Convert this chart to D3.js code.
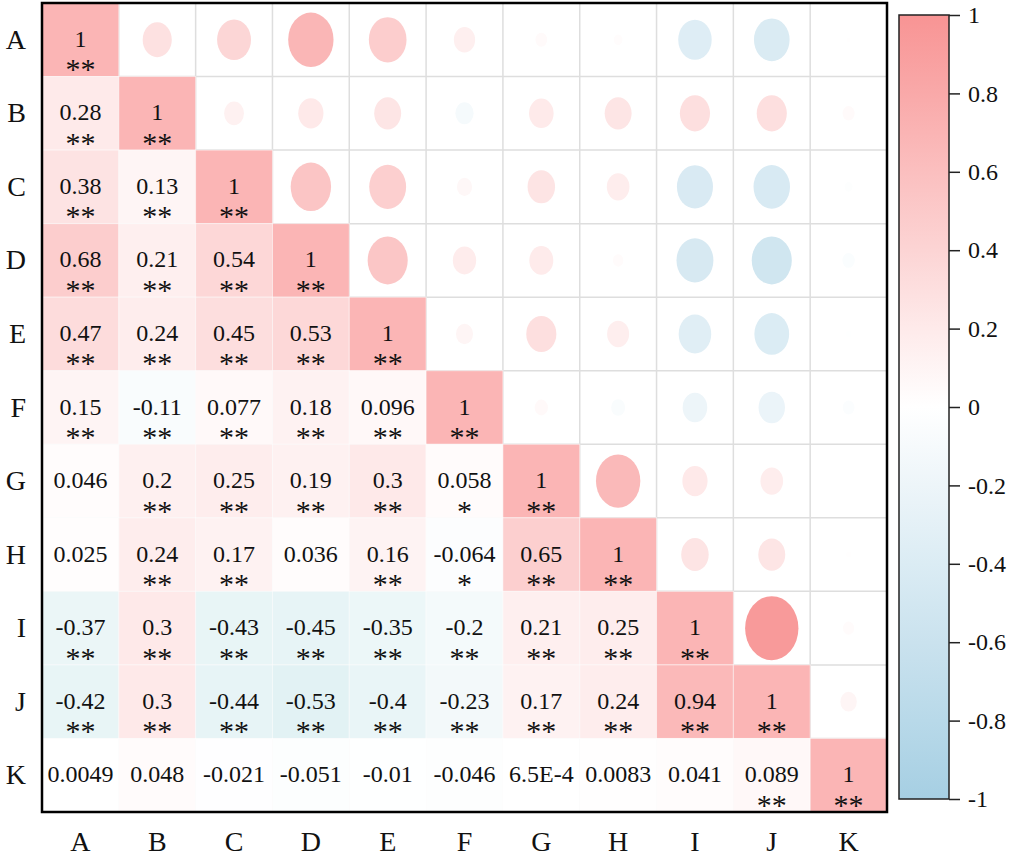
<!DOCTYPE html>
<html>
<head>
<meta charset="utf-8">
<script src="https://cdn.jsdelivr.net/npm/d3@7"></script>
<style>
  body { margin: 0; background: #fff; }
  text { font-family: "Liberation Serif", "Times New Roman", serif; fill: #111; }
</style>
</head>
<body>
<svg id="chart" width="1015" height="856"></svg>
<script>
const vars = ["A", "B", "C", "D", "E", "F", "G", "H", "I", "J", "K"];

// lower triangle, row by row (row i holds columns 0..i-1), as printed
const lowerLabels = [
  [],
  ["0.28"],
  ["0.38", "0.13"],
  ["0.68", "0.21", "0.54"],
  ["0.47", "0.24", "0.45", "0.53"],
  ["0.15", "-0.11", "0.077", "0.18", "0.096"],
  ["0.046", "0.2", "0.25", "0.19", "0.3", "0.058"],
  ["0.025", "0.24", "0.17", "0.036", "0.16", "-0.064", "0.65"],
  ["-0.37", "0.3", "-0.43", "-0.45", "-0.35", "-0.2", "0.21", "0.25"],
  ["-0.42", "0.3", "-0.44", "-0.53", "-0.4", "-0.23", "0.17", "0.24", "0.94"],
  ["0.0049", "0.048", "-0.021", "-0.051", "-0.01", "-0.046", "6.5E-4", "0.0083", "0.041", "0.089"]
];
const lowerStars = [
  [],
  ["**"],
  ["**", "**"],
  ["**", "**", "**"],
  ["**", "**", "**", "**"],
  ["**", "**", "**", "**", "**"],
  ["", "**", "**", "**", "**", "*"],
  ["", "**", "**", "", "**", "*", "**"],
  ["**", "**", "**", "**", "**", "**", "**", "**"],
  ["**", "**", "**", "**", "**", "**", "**", "**", "**"],
  ["", "", "", "", "", "", "", "", "", "**"]
];
const legendTicks = [-1, -0.8, -0.6, -0.4, -0.2, 0, 0.2, 0.4, 0.6, 0.8, 1];

(function () {
  const svg = d3.select("#chart");
  const left = 42, right = 887, top = 3, bottom = 812;

  const x = d3.scaleBand().domain(vars).range([left, right]);
  const y = d3.scaleBand().domain(vars).range([top, bottom]);
  // full colour for ellipses and the bar, paler one for the lower cells
  const color = d3.scaleLinear().domain([-1, 0, 1]).range(["#a6cfe3", "#ffffff", "#f89494"]);
  const cellColor = d3.scaleLinear().domain([-1, 0, 1]).range(["#c9e7ea", "#ffffff", "#fbb5b5"]);

  const cells = [];
  vars.forEach((rv, i) => {
    vars.forEach((cv, j) => {
      let label, stars;
      if (i === j) { label = "1"; stars = "**"; }
      else if (j < i) { label = lowerLabels[i][j]; stars = lowerStars[i][j]; }
      else { label = lowerLabels[j][i]; stars = lowerStars[j][i]; }
      cells.push({ row: rv, col: cv, i, j, r: +label, label, stars });
    });
  });

  // grid
  const grid = svg.append("g");
  vars.forEach(v => {
    grid.append("line").attr("x1", x(v)).attr("x2", x(v)).attr("y1", top).attr("y2", bottom);
    grid.append("line").attr("x1", left).attr("x2", right).attr("y1", y(v)).attr("y2", y(v));
  });
  grid.selectAll("line").attr("stroke", "#dedede").attr("stroke-width", 1.5);

  // lower triangle + diagonal
  const lower = cells.filter(d => d.j <= d.i);
  svg.append("g").selectAll("rect")
    .data(lower)
    .join("rect")
    .attr("x", d => x(d.col))
    .attr("y", d => y(d.row))
    .attr("width", x.bandwidth())
    .attr("height", y.bandwidth())
    .attr("fill", d => cellColor(d.r))
    .attr("stroke", "#fff")
    .attr("stroke-opacity", 0.5)
    .attr("stroke-width", 1);

  const txt = svg.append("g");
  txt.selectAll("text.val")
    .data(lower)
    .join("text")
    .attr("class", "val")
    .attr("x", d => x(d.col) + x.bandwidth() / 2)
    .attr("y", d => y(d.row) + y.bandwidth() / 2 + 7)
    .attr("text-anchor", "middle")
    .attr("font-size", 24)
    .text(d => d.label);

  txt.selectAll("text.star")
    .data(lower.filter(d => d.stars))
    .join("text")
    .attr("class", "star")
    .attr("x", d => x(d.col) + x.bandwidth() / 2)
    .attr("y", d => y(d.row) + y.bandwidth() / 2 + 39.5)
    .attr("text-anchor", "middle")
    .attr("font-size", 30)
    .attr("textLength", d => d.stars.length * 15)
    .attr("lengthAdjust", "spacingAndGlyphs")
    .text(d => d.stars);

  // upper triangle ellipses (area ~ |r|)
  const rxMax = 27.5, ryMax = 33;
  svg.append("g").selectAll("ellipse")
    .data(cells.filter(d => d.j > d.i))
    .join("ellipse")
    .attr("cx", d => x(d.col) + x.bandwidth() / 2)
    .attr("cy", d => y(d.row) + y.bandwidth() / 2)
    .attr("rx", d => rxMax * Math.sqrt(Math.abs(d.r)))
    .attr("ry", d => ryMax * Math.sqrt(Math.abs(d.r)))
    .attr("fill", d => color(d.r));

  // frame
  svg.append("rect")
    .attr("x", left).attr("y", top)
    .attr("width", right - left).attr("height", bottom - top)
    .attr("fill", "none").attr("stroke", "#000").attr("stroke-width", 2.5);

  // axis labels
  svg.append("g").selectAll("text")
    .data(vars)
    .join("text")
    .attr("x", 26)
    .attr("y", d => y(d) + y.bandwidth() / 2 + 9)
    .attr("text-anchor", "end")
    .attr("font-size", 28)
    .text(d => d);

  svg.append("g").selectAll("text")
    .data(vars)
    .join("text")
    .attr("x", d => x(d) + x.bandwidth() / 2)
    .attr("y", 851)
    .attr("text-anchor", "middle")
    .attr("font-size", 28)
    .text(d => d);

  // colour bar
  const cbX = 899, cbW = 50, cbTop = 15, cbBottom = 799;
  const defs = svg.append("defs");
  const grad = defs.append("linearGradient")
    .attr("id", "cbar").attr("x1", 0).attr("y1", 1).attr("x2", 0).attr("y2", 0);
  d3.range(0, 1.0001, 0.1).forEach(t => {
    grad.append("stop").attr("offset", t).attr("stop-color", color(t * 2 - 1));
  });
  svg.append("rect")
    .attr("x", cbX).attr("y", cbTop)
    .attr("width", cbW).attr("height", cbBottom - cbTop)
    .attr("fill", "url(#cbar)")
    .attr("stroke", "#222").attr("stroke-width", 1.5);

  const cbScale = d3.scaleLinear().domain([-1, 1]).range([cbBottom, cbTop]);
  const cbAxis = svg.append("g")
    .attr("transform", `translate(${cbX + cbW},0)`)
    .call(d3.axisRight(cbScale)
      .tickValues(legendTicks)
      .tickSize(11)
      .tickPadding(8)
      .tickFormat(d => String(d)));
  cbAxis.select(".domain").remove();
  cbAxis.selectAll("line").attr("stroke", "#222").attr("stroke-width", 1.5);
  cbAxis.selectAll("text")
    .attr("font-size", 24)
    .attr("font-family", "Liberation Serif, serif")
    .attr("fill", "#111");
})();
</script>
</body>
</html>
